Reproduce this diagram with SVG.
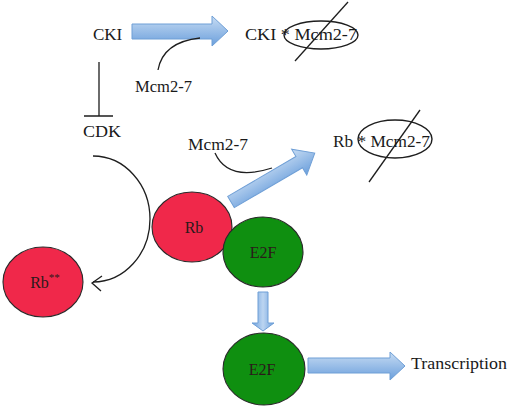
<svg xmlns="http://www.w3.org/2000/svg" width="512" height="410" viewBox="0 0 512 410">
<style>
  text { font-family: "Liberation Serif", "Times New Roman", serif; font-size: 17px; fill: #1a1a1a; }
  .node text { font-size: 16px; text-anchor: middle; fill: #2a1a1a; }
  .line { fill: none; stroke: #1e1e1e; stroke-width: 1.3; }
  .barrow { stroke: #6f9fd6; stroke-width: 1; }
  .red { fill: #f0284a; stroke: #2a2a2a; stroke-width: 1.1; }
  .green { fill: #0f8f10; stroke: #2a2a2a; stroke-width: 1.1; }
  .oval { fill: none; stroke: #1e1e1e; stroke-width: 1.4; }
</style>
<defs>
  <linearGradient id="gv" x1="0" y1="0" x2="0" y2="1">
    <stop offset="0" stop-color="#c7dcf3"/>
    <stop offset="1" stop-color="#6b9fdc"/>
  </linearGradient>
  <linearGradient id="gh" x1="0" y1="0" x2="1" y2="0">
    <stop offset="0" stop-color="#6b9fdc"/>
    <stop offset="0.5" stop-color="#bcd5f1"/>
    <stop offset="1" stop-color="#6b9fdc"/>
  </linearGradient>
</defs>

<g id="connectors">
  <polygon class="barrow" fill="url(#gv)" points="132,24 212,24 212,16 228,31 212,46 212,39 132,39"/>
  <polygon class="barrow" fill="url(#gv)" transform="translate(231,202) rotate(-30.3)" points="0,-6.5 79,-6.5 79,-15 97,0 79,15 79,6.5 0,6.5"/>
  <polygon class="barrow" fill="url(#gh)" points="258,292 268,292 268,323 274,323 263,331 252,323 258,323"/>
  <polygon class="barrow" fill="url(#gv)" points="308,358 390,358 390,352 405,366 390,380 390,373 308,373"/>
  <path class="line" d="M158,70 Q163,42 200,38"/>
  <path class="line" d="M215,153 Q228,182 272,168"/>
  <path class="line" d="M99,62 L99,116 M84,116 L113,116"/>
  <path class="line" d="M93,156 A57,63 0 0 1 93,282"/>
  <path class="line" d="M102,276 L92,283 L101,291"/>
  <ellipse class="oval" cx="321" cy="35" rx="37" ry="14"/>
  <line class="line" x1="295" y1="61" x2="348" y2="2"/>
  <ellipse class="oval" cx="395" cy="139" rx="37" ry="19"/>
  <line class="line" x1="369" y1="182" x2="420" y2="110"/>
</g>

<g id="cki"><text x="93" y="40">CKI</text></g>
<g id="cki-mcm"><text x="245" y="40" textLength="112" lengthAdjust="spacingAndGlyphs">CKI * Mcm2-7</text></g>
<g id="mcm-top"><text x="135" y="92" textLength="57" lengthAdjust="spacingAndGlyphs">Mcm2-7</text></g>
<g id="cdk"><text x="83" y="137" textLength="38" lengthAdjust="spacingAndGlyphs">CDK</text></g>
<g id="mcm-mid"><text x="188" y="150" textLength="60" lengthAdjust="spacingAndGlyphs">Mcm2-7</text></g>
<g id="rb-mcm"><text x="333" y="147" textLength="97" lengthAdjust="spacingAndGlyphs">Rb * Mcm2-7</text></g>

<g id="rbpp" class="node">
  <ellipse class="red" cx="43" cy="282" rx="40" ry="35"/>
  <text x="45" y="288">Rb<tspan font-size="11" dy="-7">**</tspan></text>
</g>
<g id="rb" class="node">
  <ellipse class="red" cx="192" cy="227" rx="40" ry="35"/>
  <text x="194" y="233">Rb</text>
</g>
<g id="e2f-top" class="node">
  <ellipse class="green" cx="263" cy="252" rx="40" ry="35"/>
  <text x="263" y="258">E2F</text>
</g>
<g id="e2f-bottom" class="node">
  <ellipse class="green" cx="264" cy="369" rx="41" ry="36"/>
  <text x="262" y="375">E2F</text>
</g>
<g id="transcription"><text x="411" y="369" textLength="96" lengthAdjust="spacingAndGlyphs">Transcription</text></g>
</svg>
